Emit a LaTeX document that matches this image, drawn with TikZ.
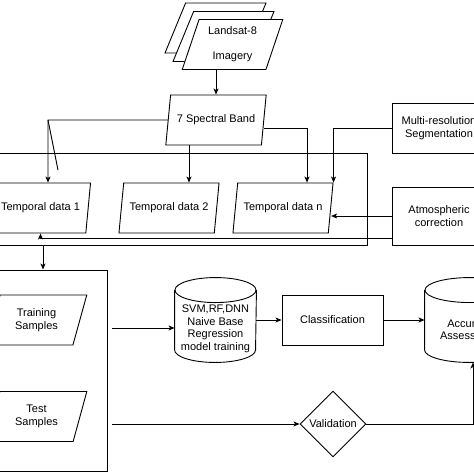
\documentclass[tikz,border=0pt]{standalone}
\usepackage{fontspec}
\setmainfont{Liberation Sans}
\usetikzlibrary{shapes.geometric,arrows.meta,calc}
\begin{document}
\begin{tikzpicture}[x=1pt,y=-1pt,
  font=\fontsize{11}{12.5}\selectfont,
  line width=0.9pt,
  >={Stealth[length=6pt,width=5pt,inset=1.5pt]},
  para/.style={trapezium, trapezium left angle=71, trapezium right angle=109,
    trapezium stretches=true, draw, fill=white, minimum width=101pt,
    minimum height=50pt, inner sep=1pt, align=center},
  box/.style={rectangle, draw, fill=white, align=center},
  cylbox/.style={rectangle, align=center, inner sep=0pt},
  lbl/.style={align=center, inner sep=0pt}
]
\useasboundingbox (0,0) rectangle (474,474);
\clip (0,0) rectangle (474,474);

% frames
\node[box, fill=none, minimum width=372pt, minimum height=92pt] (tbox) at (181,199) {};
\node[box, fill=none, minimum width=112pt, minimum height=201pt] (samp) at (51,370.5) {};

% Landsat stack
\node[para] (ls3) at (215.5,28) {};
\node[para] (ls2) at (223.5,36.5) {};
\node[para] (ls1) at (232.5,44.5) {Landsat-8\\[12.5pt]Imagery};
\node[para] (sb) at (216,120) {7 Spectral Band};

\node[para] (td1) at (40.5,208) {Temporal data 1};
\node[para] (td2) at (169,208) {Temporal data 2};
\node[para] (tdn) at (283,208) {Temporal data n};

\node[para] (tr) at (36.5,320) {Training\\Samples};
\node[para] (te) at (36.5,416.5) {Test\\Samples};

\node[box, minimum width=94pt, minimum height=50pt] (mr) at (439,128) {Multi-resolution\\Segmentation};
\node[box, minimum width=94pt, minimum height=58pt] (at) at (439,216) {Atmospheric\\correction};
\node[box, minimum width=101pt, minimum height=50pt] (cls) at (332.5,320) {Classification};
\node[diamond, draw, fill=white, minimum width=66pt, minimum height=66pt, inner sep=0pt, aspect=1] (val) at (333,424) {Validation};

% cylinders
\node[cylbox, minimum width=81pt, minimum height=84pt] (svm) at (215.5,320) {};
\draw ([yshift=-12.5pt]svm.north) ellipse [x radius=40.5, y radius=12.5];
\draw ([yshift=-12.5pt]svm.north west) -- ([yshift=12.5pt]svm.south west)
  arc[start angle=180, end angle=0, x radius=40.5, y radius=12.5] -- ([yshift=-12.5pt]svm.north east);
\node[lbl] (svmt) at (215.5,329) {SVM,RF,DNN\\Naive Base\\Regression\\model training};

\node[cylbox, minimum width=90pt, minimum height=84pt] (acc) at (470,320) {};
\draw ([yshift=-12.5pt]acc.north) ellipse [x radius=45, y radius=12.5];
\draw ([yshift=-12.5pt]acc.north west) -- ([yshift=12.5pt]acc.south west)
  arc[start angle=180, end angle=0, x radius=45, y radius=12.5] -- ([yshift=-12.5pt]acc.north east);
\node[lbl] (acct) at (470,330) {Accuracy\\Assessment};

% helper coordinates
\coordinate (c1) at (48,120);
\coordinate (x189) at (189,0);
\coordinate (x307) at (307,0);
\coordinate (x43) at (43,0);
\coordinate (x473) at (473,0);
\coordinate (a1) at (112,328);
\coordinate (a2) at (112,424);

% connectors
\draw[->] (ls1.south -| sb.north) -- (sb.north);
\draw[->] (sb.west) -- (c1) -- (c1 |- td1.north);
\draw (c1) -- ++(10,50);
\draw[->] (sb.south -| x189) -- (td2.north -| x189);
\draw[->] ([yshift=-8pt]sb.east) -| (tdn.north -| x307);
\draw[->] (mr.west) -| (tdn.top right corner);
\draw[->] (at.west) -- (at.west -| tdn.east);
\draw[->] ([yshift=-22pt]at.west) -| (td1.south);
\draw[->] (tbox.south -| x43) -- (samp.north -| x43);
\draw[->] (a1) -- (a1 -| svm.west);
\draw[->] (svm.east) -- (svm.east -| cls.west);
\draw[->] (cls.east) -- (cls.east -| acc.west);
\draw[->] (a2) -- (val.west);
\draw[->] (val.east) -| (acc.south -| x473);
\end{tikzpicture}
\end{document}
